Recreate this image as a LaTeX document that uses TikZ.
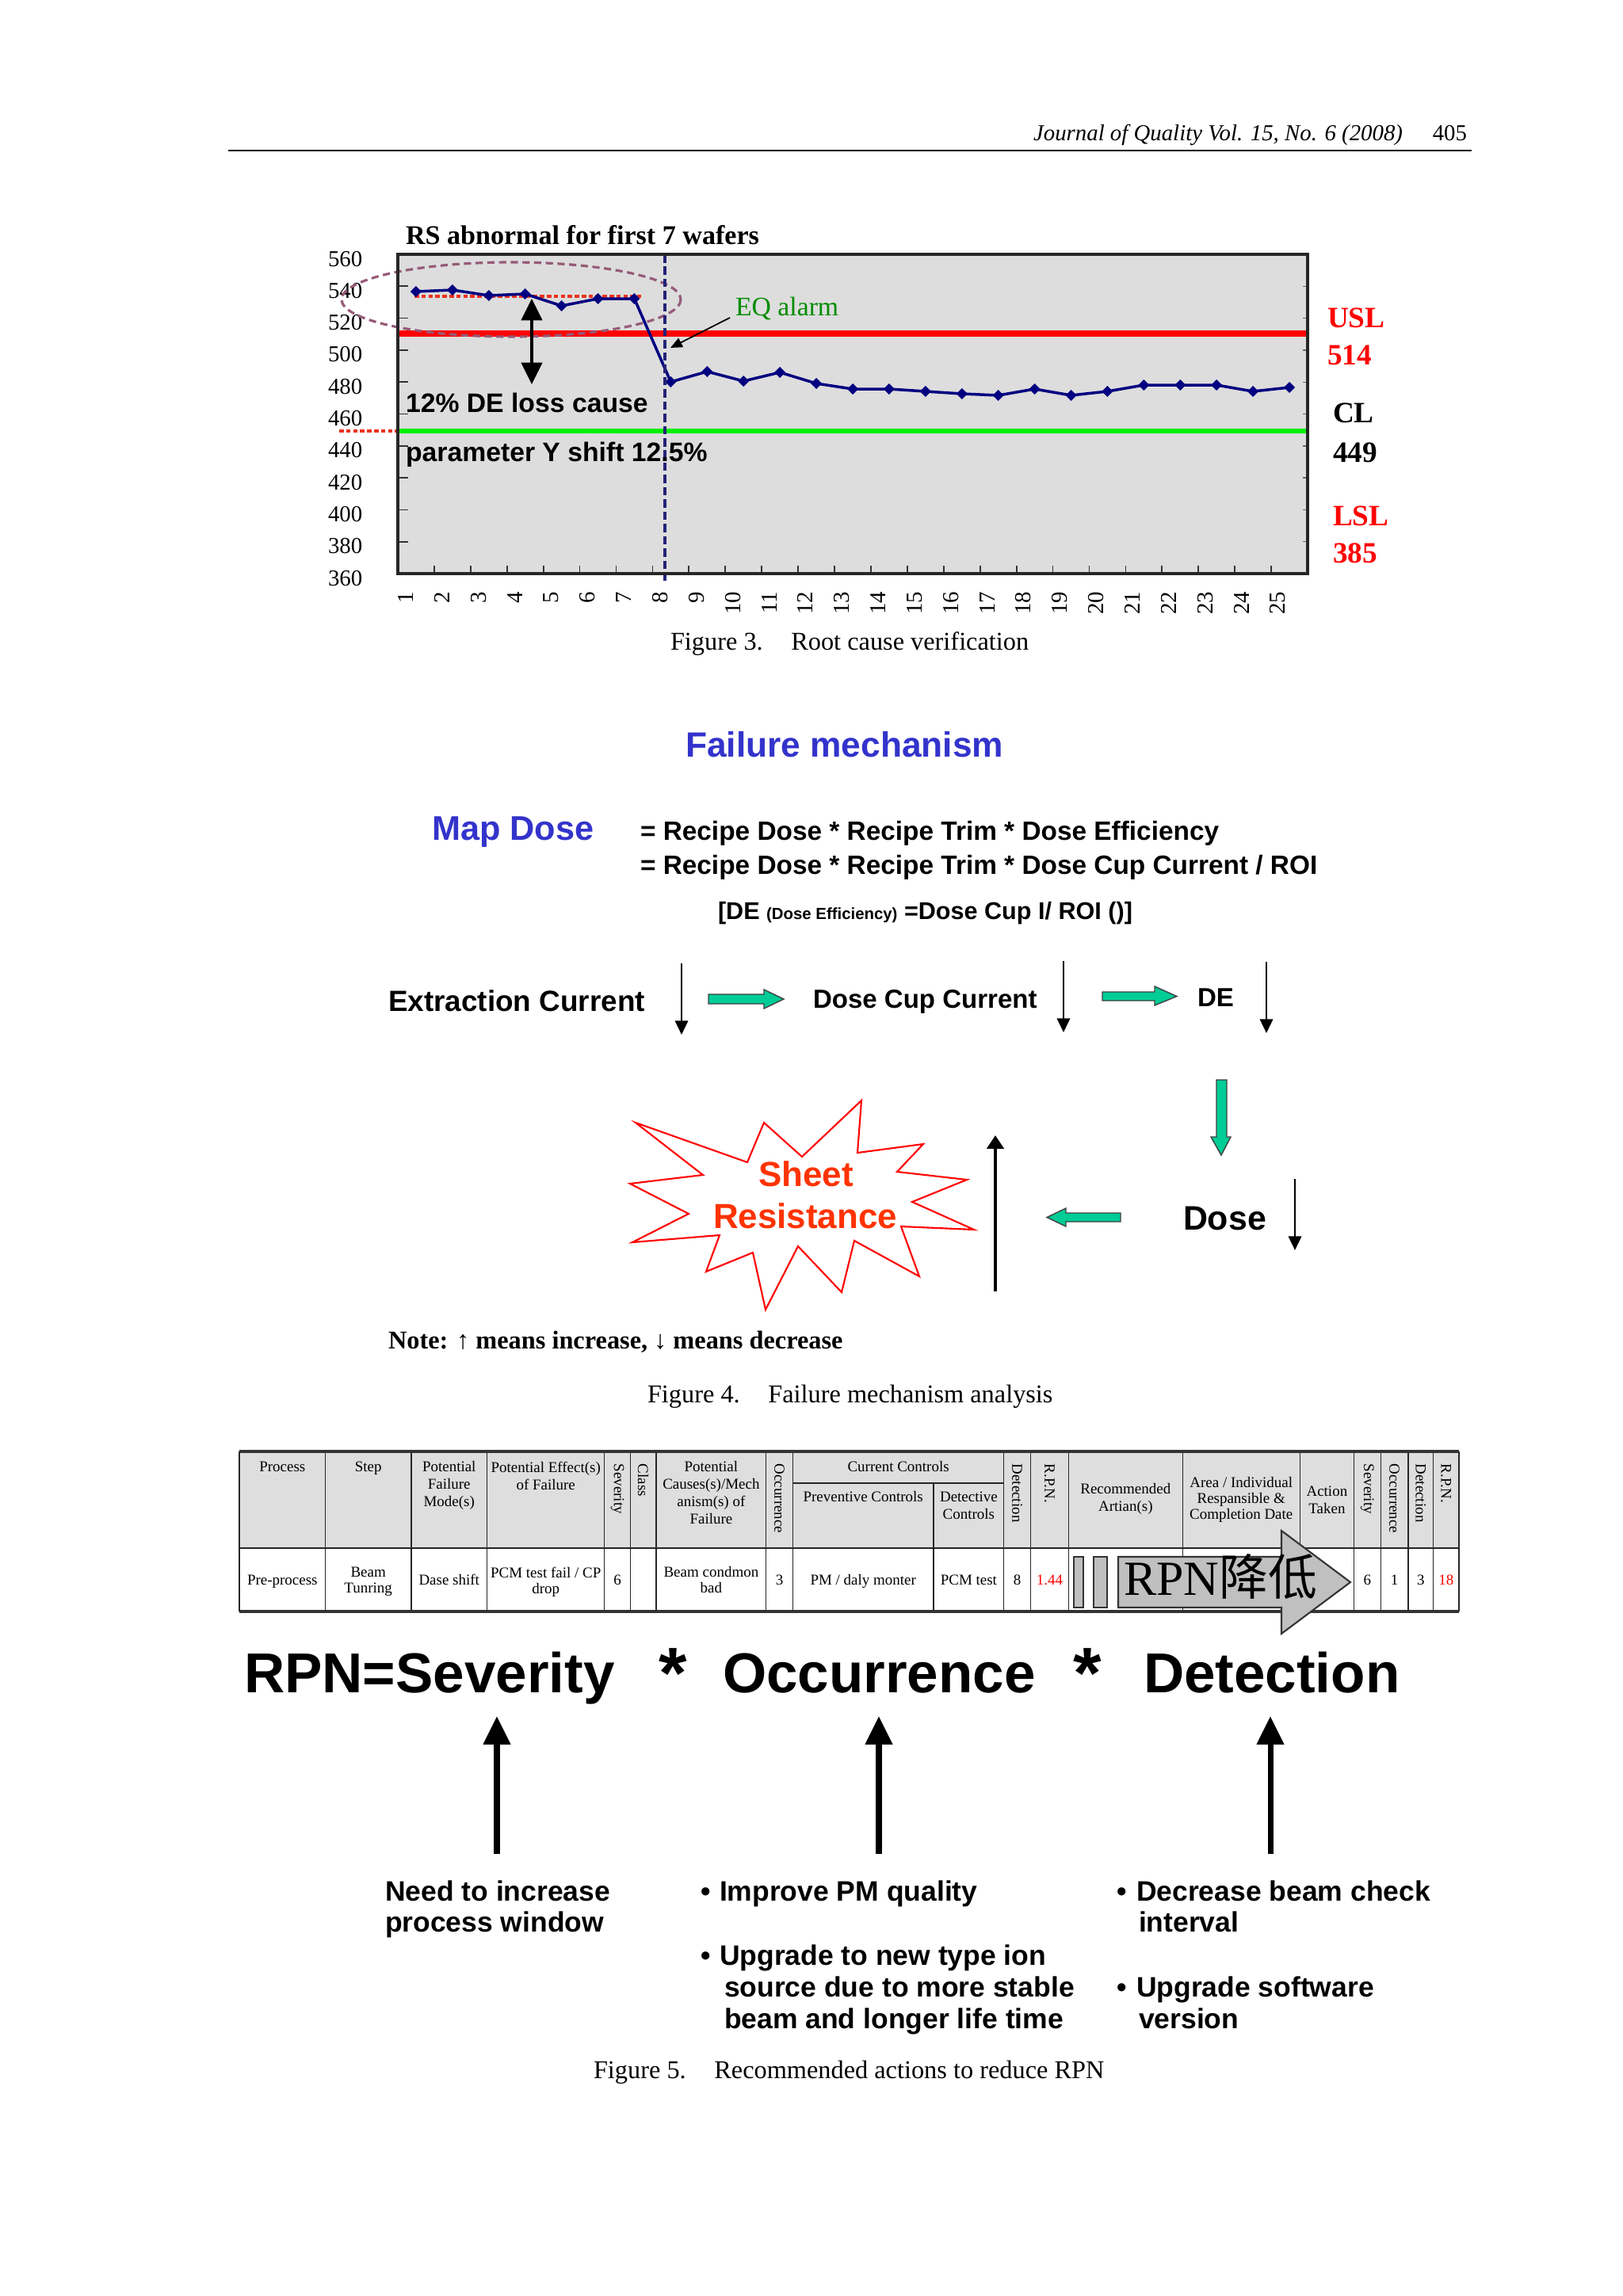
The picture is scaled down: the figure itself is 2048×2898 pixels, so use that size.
\documentclass[tikz,border=0pt]{standalone}
\usepackage{fontspec}
\setmainfont{Liberation Serif}
\setsansfont{Liberation Sans}
\newfontfamily\cjkfont{Noto Sans CJK SC}
\usetikzlibrary{arrows.meta}
\definecolor{chartbg}{RGB}{221,221,221}
\definecolor{thgray}{RGB}{222,222,222}
\definecolor{navyser}{RGB}{0,0,128}
\definecolor{navydash}{RGB}{35,35,120}
\definecolor{mauve}{RGB}{150,90,120}
\definecolor{eqgreen}{RGB}{0,140,0}
\definecolor{clgreen}{RGB}{0,240,0}
\definecolor{reddot}{RGB}{235,50,30}
\definecolor{fmblue}{RGB}{51,51,204}
\definecolor{tealarrow}{RGB}{0,204,150}
\definecolor{srcol}{RGB}{255,51,0}
\definecolor{arrowgray}{RGB}{192,192,192}
\newcommand\myfs[1]{\fontsize{#1}{#1}\selectfont}
\begin{document}
\begin{tikzpicture}[x=0.1mm,y=-0.1mm,
  txt/.style={inner sep=0pt, outer sep=0pt, anchor=base west},
  ylab/.style={inner sep=0pt, anchor=base east, font=\myfs{8.2}},
  xlab/.style={inner sep=0pt, anchor=east, rotate=90, font=\myfs{8.2}},
  limitlab/.style={txt, font=\myfs{10.6}\bfseries},
  figcap/.style={txt, font=\myfs{9.2}},
  th/.style={inner sep=0pt, anchor=north, align=center, font=\fontsize{5.4}{6.26}\selectfont},
  thr/.style={inner sep=0pt, anchor=west, rotate=-90, font=\myfs{5.4}},
  tb/.style={inner sep=0pt, anchor=base, font=\myfs{5.4}},
  tb2/.style={inner sep=0pt, anchor=north, align=center, font=\fontsize{5.4}{5.7}\selectfont},
  tline/.style={line width=0.4pt, black!85},
  thinarrow/.style={line width=0.8pt, -{Triangle[width=4.6pt,length=5pt]}},
  bigup/.style={line width=2pt, -{Triangle[width=9.4pt,length=10.2pt]}},
  greenarrow/.style={fill=tealarrow, draw=black!75, line width=0.4pt},
  redsep/.style={reddot, line width=1.1pt, dash pattern=on 1.6pt off 0.9pt},
  sb/.style={txt, font=\sffamily\bfseries\myfs{#1}},
]
\path[use as bounding box, fill=white] (0,0) rectangle (2048,2898);

% ---------- running header ----------
\node[txt, anchor=base east, font=\myfs{8.2}\itshape] (journal) at (1770,177) {Journal of Quality Vol. 15, No. 6 (2008)};
\node[txt, anchor=base east, font=\myfs{8.2}] (pageno) at (1851,177) {405};
\draw[line width=0.8pt] (288,190) -- (1857,190);

% ---------- Figure 3 chart ----------
\node[txt, font=\myfs{9.7}\bfseries] (ctitle) at (512,308) {RS abnormal for first 7 wafers};
\fill[chartbg] (502,321) rectangle (1650,724);
\foreach \i in {0,...,10} {
  \draw[line width=0.5pt, black!80] (502,{321+\i*40.3}) -- ++(13,0);
  \draw[line width=0.4pt, black!60] (1650,{321+\i*40.3}) -- ++(-6,0);
}
\foreach \k in {1,...,24} \draw[line width=0.5pt, black!80] ({502+\k*45.92},724) -- ++(0,-10);
\foreach \v [count=\i from 0] in {560,540,...,360}
  \node[ylab] (yl\v) at (458,{321+\i*40.3+15}) {\v};
\foreach \i in {1,...,25}
  \node[xlab] (xl\i) at ({512+(\i-1)*45.85},746) {\i};
% spec lines
\draw[red, line width=2pt] (502,421) -- (1650,421);
\draw[clgreen, line width=1.7pt] (502,544) -- (1650,544);
\draw[redsep] (428,544) -- (502,544);
\draw[redsep] (523,374) -- (809,374);
% ellipse
\draw[mauve, line width=0.9pt, dash pattern=on 2.6pt off 1.6pt] (645,378) ellipse [x radius=214, y radius=47];
% data series
\foreach \y [count=\i] in {368,366,373,371,386,377,377,482,469,481,470,484,491,491,494,497,499,491,499,494,486,486,486,494,489}
  \coordinate (p\i) at ({502+(\i-0.5)*45.92},\y);
\draw[navyser, line width=1pt] (p1) \foreach \i in {2,...,25} { -- (p\i) };
\foreach \i in {1,...,25}
  \fill[navyser] (p\i) +(0,-7) -- +(7,0) -- +(0,7) -- +(-7,0) -- cycle;
% alarm line
\draw[navydash, line width=1.1pt, dash pattern=on 3pt off 1.4pt] (839,321) -- (839,733);
% box
\draw[line width=0.9pt, black!85] (502,321) rectangle (1650,724);
% double arrow
\draw[line width=1.2pt, {Triangle[width=7.4pt,length=7.8pt]}-{Triangle[width=7.4pt,length=7.8pt]}] (671,377) -- (671,485);
\node[sb=9.6] (deloss) at (512,520) {12\% DE loss cause};
\node[sb=9.6] (yshift) at (512,582) {parameter Y shift 12.5\%};
\node[txt, font=\myfs{9.6}, text=eqgreen] (eq) at (928,398) {EQ alarm};
\coordinate (eqa) at (921,401);
\coordinate (eqt) at (846,439);
\draw[line width=0.5pt, -{Triangle[width=3.6pt,length=4.2pt]}] (eqa) -- (eqt);
% limit labels
\node[limitlab, text=red] (usl) at (1675,413) {USL};
\node[limitlab, text=red] (uslv) at (1675,460) {514};
\node[limitlab] (cl) at (1682,533) {CL};
\node[limitlab] (clv) at (1682,583) {449};
\node[limitlab, text=red] (lsl) at (1682,663) {LSL};
\node[limitlab, text=red] (lslv) at (1682,710) {385};
\node[figcap] (fig3) at (846,820) {Figure 3.\hspace{1.1em}Root cause verification};

% ---------- Figure 4 ----------
\node[sb=12.6, text=fmblue] (fmtitle) at (865,955) {Failure mechanism};
\node[sb=12.3, text=fmblue] (mapdose) at (545,1060) {Map Dose};
\node[sb=9.5] (eq1) at (808,1060) {= Recipe Dose * Recipe Trim * Dose Efficiency};
\node[sb=9.5] (eq2) at (808,1103) {= Recipe Dose * Recipe Trim * Dose Cup Current / ROI};
\node[sb=8.7] (eq3) at (906,1160) {[DE {\myfs{5.8}(Dose Efficiency)} =Dose Cup I/ ROI ()]};

\node[sb=10.5] (extr) at (490,1276) {Extraction Current};
\node[sb=9.4] (dcc) at (1026,1272) {Dose Cup Current};
\node[sb=9.4] (de) at (1511,1270) {DE};
\node[sb=12.2] (dose) at (1493,1552) {Dose};

\coordinate (ea1) at (860,1216); \coordinate (ea2) at (860,1306);
\coordinate (da1) at (1342,1213); \coordinate (da2) at (1342,1303);
\coordinate (dea1) at (1598,1214); \coordinate (dea2) at (1598,1304);
\coordinate (doa1) at (1634,1488); \coordinate (doa2) at (1634,1578);
\draw[thinarrow] (ea1) -- (ea2);
\draw[thinarrow] (da1) -- (da2);
\draw[thinarrow] (dea1) -- (dea2);
\draw[thinarrow] (doa1) -- (doa2);
\coordinate (sra1) at (1256,1630); \coordinate (sra2) at (1256,1433);
\draw[line width=1.3pt, -{Triangle[width=6pt,length=4.8pt]}] (sra1) -- (sra2);

\draw[greenarrow] (894,1255) -- (964,1255) -- (964,1249) -- (989,1261) -- (964,1273) -- (964,1267) -- (894,1267) -- cycle;
\draw[greenarrow] (1391,1252) -- (1457,1252) -- (1457,1245) -- (1485,1257.5) -- (1457,1269) -- (1457,1263) -- (1391,1263) -- cycle;
\draw[greenarrow] (1535,1363) -- (1548,1363) -- (1548,1435) -- (1553,1435) -- (1541,1458) -- (1528,1435) -- (1535,1435) -- cycle;
\draw[greenarrow] (1414,1531) -- (1345,1531) -- (1345,1525) -- (1321,1536.5) -- (1345,1548) -- (1345,1542) -- (1414,1542) -- cycle;

% starburst
\draw[red, line width=0.6pt, fill=white] (802,1417) -- (943,1467) -- (964,1417) -- (1012,1460) -- (1087,1389) -- (1082,1455)
  -- (1165,1444) -- (1132,1479) -- (1220,1489) -- (1151,1517) -- (1229,1552) -- (1137,1548) -- (1160,1611)
  -- (1078,1566) -- (1062,1631) -- (1007,1573) -- (966,1653) -- (950,1581) -- (891,1605) -- (908,1559)
  -- (798,1568) -- (869,1532) -- (795,1494) -- (887,1483) -- cycle;
\node[sb=12.5, text=srcol] (sheet) at (957,1497) {Sheet};
\node[sb=12.5, text=srcol] (resist) at (900,1550) {Resistance};

\node[txt, font=\myfs{9.2}\bfseries] (note) at (490,1702) {Note: ↑ means increase, ↓ means decrease};
\node[figcap] (fig4) at (817,1770) {Figure 4.\hspace{1.1em}Failure mechanism analysis};

% ---------- FMEA table ----------
\fill[thgray] (302,1832) rectangle (1841,1954);
\foreach \x in {302,410.6,518.8,614.7,762.7,795.3,828,966.7,1000.4,1266.7,1300.4,1348.4,1492.2,1640.2,1708.6,1742.2,1777,1808.6,1841}
  \draw[tline] (\x,1832) -- (\x,2034);
\draw[tline] (1178,1872) -- (1178,2034);
\draw[tline] (1000.4,1872) -- (1266.7,1872);
\draw[line width=0.6pt, black!85] (302,1954) -- (1841,1954);
\draw[line width=0.9pt, black!80] (302,1832) -- (1841,1832);
\draw[line width=0.9pt, black!80] (302,2034) -- (1841,2034);

\node[th] (hproc) at (356.3,1844) {Process};
\node[th] (hstep) at (464.7,1844) {Step};
\node[th] (hpfm) at (566.75,1844) {Potential\\Failure\\Mode(s)};
\node[th] (hpef) at (688.7,1844) {Potential Effect(s)\\of Failure};
\node[thr] (hsev) at (779,1847) {Severity};
\node[thr] (hcls) at (811.7,1847) {Class};
\node[th] (hcau) at (897.4,1844) {Potential\\Causes(s)/Mech\\anism(s) of\\Failure};
\node[thr] (hocc) at (983.6,1847) {Occurrence};
\node[th] (hcc) at (1133.6,1844) {Current Controls};
\node[th] (hpc) at (1089.2,1882) {Preventive Controls};
\node[th] (hdc) at (1222.4,1882) {Detective\\Controls};
\node[thr] (hdet) at (1283.6,1847) {Detection};
\node[thr] (hrpn) at (1324.4,1847) {R.P.N.};
\node[th] (hrec) at (1420.3,1872) {Recommended\\Artian(s)};
\node[th, font=\fontsize{5.4}{5.7}\selectfont] (harea) at (1566.2,1864) {Area / Individual\\Respansible \&\\Completion Date};
\node[th] (hact) at (1674.4,1875) {Action\\Taken};
\node[thr] (hsev2) at (1725.4,1847) {Severity};
\node[thr] (hocc2) at (1759.6,1847) {Occurrence};
\node[thr] (hdet2) at (1792.8,1847) {Detection};
\node[thr] (hrpn2) at (1824.8,1847) {R.P.N.};

\node[tb] (bproc) at (356.3,2000) {Pre-process};
\node[tb2] (bstep) at (464.7,1977) {Beam\\Tunring};
\node[tb] (bpfm) at (566.75,2000) {Dase shift};
\node[tb2] (bpef) at (688.7,1977) {PCM test fail / CP\\drop};
\node[tb] (bsev) at (779,2000) {6};
\node[tb2] (bcau) at (897.4,1977) {Beam condmon\\bad};
\node[tb] (bocc) at (983.6,2000) {3};
\node[tb] (bpc) at (1089.2,2000) {PM / daly monter};
\node[tb] (bdc) at (1222.4,2000) {PCM test};
\node[tb] (bdet) at (1283.6,2000) {8};
\node[tb, text=red] (brpn) at (1324.4,2000) {1.44};
\node[tb] (bsev2) at (1725.4,2000) {6};
\node[tb] (bocc2) at (1759.6,2000) {1};
\node[tb] (bdet2) at (1792.8,2000) {3};
\node[tb, text=red] (brpn2) at (1824.8,2000) {18};

% RPN reduction arrow
\draw[fill=arrowgray, draw=black!80, line width=0.5pt] (1355,1965) rectangle (1367,2029);
\draw[fill=arrowgray, draw=black!80, line width=0.5pt] (1380,1965) rectangle (1397,2029);
\draw[fill=arrowgray, draw=black!80, line width=0.6pt] (1411,1965) -- (1617,1965) -- (1617,1932) -- (1704,1997) -- (1617,2062) -- (1617,2029) -- (1411,2029) -- cycle;
\node[txt, font=\myfs{17.6}] (rpnlow) at (1418,2013) {RPN{\cjkfont 降低}};

% ---------- Figure 5 ----------
\node[sb=20.2] (rpn) at (308,2136) {RPN=Severity};
\node[inner sep=0pt, anchor=north, font=\sffamily\bfseries\myfs{26}] (ast1) at (849,2080) {*};
\node[sb=20.2] (occ) at (912,2136) {Occurrence};
\node[inner sep=0pt, anchor=north, font=\sffamily\bfseries\myfs{26}] (ast2) at (1372,2080) {*};
\node[sb=20.2] (det) at (1443,2136) {Detection};
\coordinate (u1a) at (627,2340); \coordinate (u1b) at (627,2166);
\coordinate (u2a) at (1109,2340); \coordinate (u2b) at (1109,2166);
\coordinate (u3a) at (1603,2340); \coordinate (u3b) at (1603,2166);
\draw[bigup] (u1a) -- (u1b);
\draw[bigup] (u2a) -- (u2b);
\draw[bigup] (u3a) -- (u3b);

\node[sb=10.1] (need1) at (486,2399) {Need to increase};
\node[sb=10.1] (need2) at (486,2438) {process window};
\node[sb=10.1] (b1) at (884,2399) {•};
\node[sb=10.1] (imp) at (908,2399) {Improve PM quality};
\node[sb=10.1] (b2) at (884,2480) {•};
\node[sb=10.1] (upg1) at (908,2480) {Upgrade to new type ion};
\node[sb=10.1] (upg2) at (914,2520) {source due to more stable};
\node[sb=10.1] (upg3) at (914,2560) {beam and longer life time};
\node[sb=10.1] (b3) at (1409,2399) {•};
\node[sb=10.1] (dec1) at (1434,2399) {Decrease beam check};
\node[sb=10.1] (dec2) at (1437,2438) {interval};
\node[sb=10.1] (b4) at (1409,2520) {•};
\node[sb=10.1] (sw1) at (1434,2520) {Upgrade software};
\node[sb=10.1] (sw2) at (1437,2560) {version};
\node[figcap] (fig5) at (749,2623) {Figure 5.\hspace{1.1em}Recommended actions to reduce RPN};
\end{tikzpicture}
\end{document}
